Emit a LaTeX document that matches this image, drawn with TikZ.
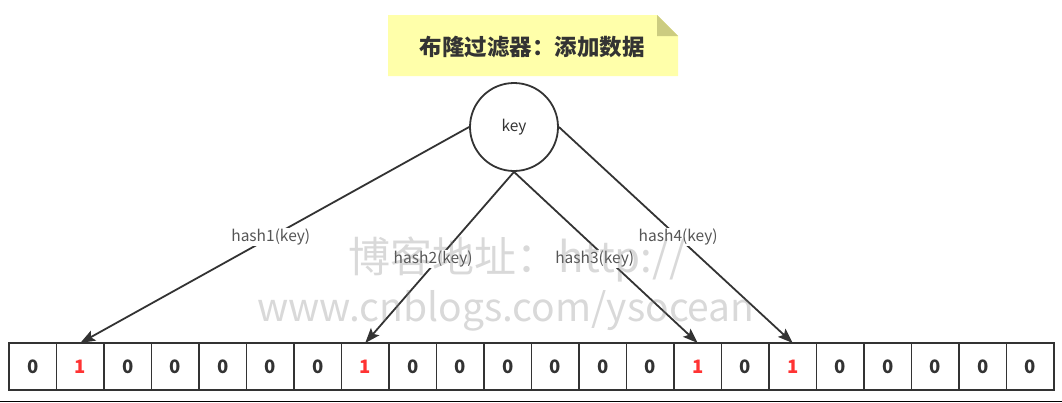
\documentclass[tikz,border=0pt]{standalone}
\usepackage{fontspec}
\setmainfont{Noto Sans CJK SC}
\usetikzlibrary{arrows.meta}
\definecolor{notefill}{RGB}{255,255,170}
\definecolor{notefold}{RGB}{204,204,128}
\definecolor{ink}{RGB}{51,51,51}
\definecolor{labelgray}{RGB}{85,85,85}
\definecolor{bitred}{RGB}{255,51,51}
\tikzset{
  bitcell/.style={draw=ink,line width=1.8pt,minimum width=47.5pt,minimum height=47pt,
    inner sep=0pt,outer sep=0pt,font=\fontsize{18.5}{18.5}\selectfont\bfseries,text=ink},
  hasharrow/.style={draw=ink,line width=1.8pt,-{Stealth[length=15pt,width=11pt,inset=3pt]}},
  hashlabel/.style={fill=white,inner sep=1pt,text=labelgray,font=\fontsize{15.5}{15.5}\selectfont}
}
\begin{document}
\begin{tikzpicture}[x=1pt,y=-1pt]
      \useasboundingbox (0,0) rectangle (1062,402);
      % note with folded corner
      \fill[notefill] (388,15) -- (657,15) -- (678,36) -- (678,76) -- (388,76) -- cycle;
      \fill[notefold] (657,15) -- (678,36) -- (657,36) -- cycle;
      \node (title) at (532,47) {\fontsize{22.5}{22.5}\selectfont\bfseries\color{ink}布隆过滤器：添加数据};
      % key
      \node[circle,draw=ink,line width=1.8pt,minimum size=88pt,inner sep=0pt,text=ink,
        font=\fontsize{15.5}{15.5}\selectfont] (key) at (514,127) {key};
      % bit array
      \foreach \v [count=\i from 0] in {0,1,0,0,0,0,0,1,0,0,0,0,0,0,1,0,1,0,0,0,0,0} {
        \ifnum\v=1
          \node[bitcell,text=bitred] (c\i) at (32.75+47.5*\i,366.5) {\v};
        \else
          \node[bitcell] (c\i) at (32.75+47.5*\i,366.5) {\v};
        \fi
      }
      \begin{scope}[hasharrow]
        \draw (key.west) to node[hashlabel,pos=0.51] {hash1(key)} (c1.north);
        \draw (key.south) to node[hashlabel,pos=0.51,xshift=-5pt] {hash2(key)} (c7.north);
        \draw (key.south) to node[hashlabel,pos=0.51,xshift=-13pt] {hash3(key)} (c14.north);
        \draw (key.east) to node[hashlabel,pos=0.51] {hash4(key)} (c16.north);
      \end{scope}
      % watermark
      \node[text=gray,opacity=0.3,font=\fontsize{42}{42}\selectfont] (wm1) at (517,259) {博客地址：http://};
      \node[text=gray,opacity=0.3,font=\fontsize{39}{39}\selectfont] (wm2) at (506,311) {www.cnblogs.com/ysocean};
      \draw[black,line width=1pt] (0,401) -- (1062,401);
    \end{tikzpicture}
\end{document}
